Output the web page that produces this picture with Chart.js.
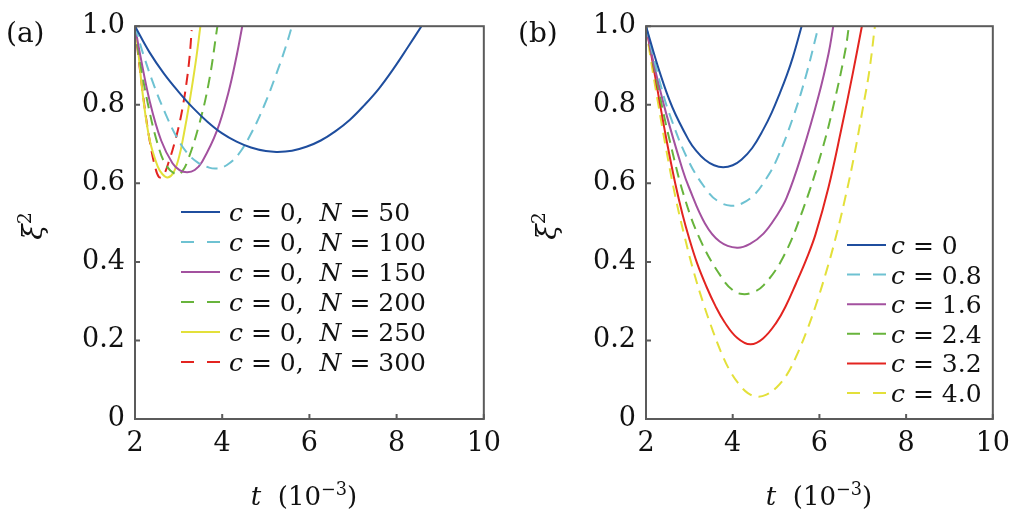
<!DOCTYPE html>
<html>
<head>
<meta charset="utf-8">
<script src="https://cdn.jsdelivr.net/npm/chart.js@4.4.1/dist/chart.umd.min.js"></script>
<style>
  html, body { margin: 0; padding: 0; background: #fff; }
  #wrap { position: relative; width: 1019px; height: 516px; }
  .panel { position: absolute; top: 0; height: 516px; }
</style>
</head>
<body>
<div id="wrap">
  <div class="panel" style="left:0;width:510px"><canvas id="ca" width="510" height="516"></canvas></div>
  <div class="panel" style="left:510px;width:509px"><canvas id="cb" width="509" height="516"></canvas></div>
</div>
<script>
// ---- panel (a): c = 0, varying N ----
const tN50   = [2.0, 2.33, 2.66, 3.0, 3.33, 3.66, 4.0, 4.33, 4.66, 5.0, 5.27, 5.6, 5.93, 6.26, 6.6, 6.93, 7.26, 7.6, 7.93, 8.26, 8.57];
const xiN50  = [1.0, 0.934, 0.880, 0.833, 0.792, 0.757, 0.727, 0.706, 0.691, 0.682, 0.680, 0.683, 0.693, 0.709, 0.733, 0.762, 0.799, 0.842, 0.892, 0.947, 1.0];
const tN100  = [2.0, 2.2, 2.45, 2.7, 2.96, 3.2, 3.45, 3.7, 3.88, 4.1, 4.36, 4.66, 4.97, 5.23, 5.45, 5.6];
const xiN100 = [1.0, 0.925, 0.845, 0.777, 0.717, 0.677, 0.652, 0.640, 0.638, 0.646, 0.672, 0.726, 0.80, 0.875, 0.945, 1.0];
const tN150  = [2.0, 2.11, 2.34, 2.6, 2.86, 3.03, 3.2, 3.37, 3.54, 3.88, 4.14, 4.33, 4.46];
const xiN150 = [1.0, 0.932, 0.808, 0.709, 0.651, 0.633, 0.628, 0.634, 0.655, 0.734, 0.830, 0.924, 1.0];
const tN200  = [2.0, 2.1, 2.3, 2.52, 2.72, 2.96, 3.08, 3.2, 3.46, 3.69, 3.89];
const xiN200 = [1.0, 0.92, 0.80, 0.70, 0.645, 0.622, 0.630, 0.655, 0.745, 0.855, 1.0];
const tN250  = [2.0, 2.07, 2.19, 2.34, 2.52, 2.63, 2.75, 2.88, 3.01, 3.12, 3.24, 3.39, 3.5];
const xiN250 = [1.0, 0.94, 0.815, 0.709, 0.643, 0.623, 0.615, 0.627, 0.667, 0.725, 0.80, 0.907, 1.0];
const tN300  = [2.0, 2.08, 2.16, 2.25, 2.35, 2.45, 2.55, 2.65, 2.79, 2.9, 3.01, 3.1, 3.18, 3.25, 3.3];
const xiN300 = [1.0, 0.92, 0.847, 0.77, 0.70, 0.647, 0.616, 0.62, 0.66, 0.70, 0.748, 0.798, 0.855, 0.92, 0.99];
const nValues = ['50', '100', '150', '200', '250', '300'];

// ---- panel (b): varying c ----
const tC00  = [2.0, 2.31, 2.61, 2.99, 3.15, 3.36, 3.57, 3.78, 4.0, 4.2, 4.45, 4.71, 4.9, 5.09, 5.25, 5.39, 5.59];
const xiC00 = [1.0, 0.885, 0.793, 0.709, 0.684, 0.660, 0.646, 0.641, 0.646, 0.660, 0.690, 0.738, 0.780, 0.830, 0.876, 0.922, 1.0];
const tC08  = [2.0, 2.31, 2.54, 2.99, 3.44, 3.7, 3.96, 4.2, 4.49, 4.75, 5.01, 5.39, 5.69, 5.98];
const xiC08 = [1.0, 0.862, 0.777, 0.655, 0.577, 0.552, 0.543, 0.548, 0.570, 0.608, 0.659, 0.767, 0.874, 1.0];
const tC16  = [2.0, 2.16, 2.46, 2.84, 2.99, 3.36, 3.7, 4.1, 4.4, 4.71, 5.0, 5.24, 5.61, 5.98, 6.21, 6.32];
const xiC16 = [1.0, 0.914, 0.780, 0.636, 0.590, 0.498, 0.452, 0.436, 0.446, 0.472, 0.515, 0.562, 0.680, 0.822, 0.930, 1.0];
const tC24  = [2.0, 2.25, 2.54, 2.91, 3.29, 3.74, 4.0, 4.22, 4.45, 4.71, 5.16, 5.61, 6.06, 6.36, 6.6, 6.68];
const xiC24 = [1.0, 0.86, 0.712, 0.556, 0.447, 0.361, 0.328, 0.318, 0.322, 0.340, 0.411, 0.530, 0.684, 0.815, 0.94, 1.0];
const tC32  = [2.0, 2.15, 2.31, 2.5, 2.68, 2.84, 2.99, 3.18, 3.39, 3.6, 3.81, 4.1, 4.41, 4.7, 5.01, 5.23, 5.46, 5.7, 5.91, 6.21, 6.5, 6.77, 6.98];
const xiC32 = [1.0, 0.91, 0.81, 0.695, 0.597, 0.522, 0.462, 0.396, 0.338, 0.288, 0.247, 0.207, 0.19, 0.205, 0.246, 0.289, 0.345, 0.407, 0.47, 0.59, 0.735, 0.88, 1.0];
const tC40  = [2.0, 2.09, 2.27, 2.46, 2.67, 2.88, 3.1, 3.33, 3.55, 3.74, 3.95, 4.15, 4.35, 4.56, 4.78, 5.01, 5.25, 5.46, 5.7, 5.91, 6.15, 6.36, 6.6, 6.81, 7.0, 7.15, 7.28];
const xiC40 = [1.0, 0.93, 0.81, 0.69, 0.57, 0.469, 0.375, 0.292, 0.222, 0.168, 0.120, 0.088, 0.066, 0.057, 0.062, 0.08, 0.113, 0.158, 0.222, 0.287, 0.372, 0.455, 0.565, 0.675, 0.79, 0.885, 1.0];
const cValues = ['0', '0.8', '1.6', '2.4', '3.2', '4.0'];

// ---- axes ----
const xTicks = [2, 4, 6, 8, 10];
const yTicks = [0, 0.2, 0.4, 0.6, 0.8, 1.0];
const yTickLabels = ['0', '0.2', '0.4', '0.6', '0.8', '1.0'];

const BLUE = '#1f4e9e', CYAN = '#6ec2d2', PURPLE = '#a3519f', GREEN = '#68b43c', YELLOW = '#e3e03a', RED = '#e32420';
const colorsA = [BLUE, CYAN, PURPLE, GREEN, YELLOW, RED];
const colorsB = [BLUE, CYAN, PURPLE, GREEN, RED, YELLOW];
const dashed = [false, true, false, true, false, true];

const SERIF = '"DejaVu Serif", serif';
const pts = (ts, ys) => ts.map((t, i) => ({ x: t, y: ys[i] }));

function makeSets(series, colors) {
  return series.map((s, i) => ({
    data: pts(s[0], s[1]),
    borderColor: colors[i],
    borderWidth: 2,
    borderDash: dashed[i] ? [11, 7] : [],
    pointRadius: 0,
    fill: false,
    tension: 0.4,
  }));
}

// draws a run of text pieces, some italic, some superscript
function richWidth(ctx, segs, size) {
  let w = 0;
  segs.forEach(s => {
    const sz = s.sup ? size * 0.68 : size;
    ctx.font = `${s.it ? 'italic ' : ''}${sz}px ${SERIF}`;
    w += ctx.measureText(s.t).width;
  });
  return w;
}
function rich(ctx, segs, x, y, size) {
  let cx = x;
  segs.forEach(s => {
    const sz = s.sup ? size * 0.68 : size;
    ctx.font = `${s.it ? 'italic ' : ''}${sz}px ${SERIF}`;
    ctx.fillText(s.t, cx, s.sup ? y - size * 0.4 : y);
    cx += ctx.measureText(s.t).width;
  });
}

const framePlugin = {
  id: 'frame',
  afterDatasetsDraw(chart) {
    const { ctx, chartArea: a, scales: { x, y } } = chart;
    ctx.save();
    ctx.strokeStyle = '#5b5b5b';
    ctx.lineWidth = 2;
    ctx.setLineDash([]);
    ctx.strokeRect(a.left, a.top, a.right - a.left, a.bottom - a.top);
    ctx.beginPath();
    xTicks.forEach(v => {
      const px = x.getPixelForValue(v);
      ctx.moveTo(px, a.bottom); ctx.lineTo(px, a.bottom - 5);
    });
    yTicks.forEach(v => {
      const py = y.getPixelForValue(v);
      ctx.moveTo(a.left, py); ctx.lineTo(a.left + 5, py);
    });
    ctx.stroke();
    ctx.restore();
  }
};

const textPlugin = {
  id: 'texts',
  afterDraw(chart, args, o) {
    const ctx = chart.ctx;
    ctx.save();
    ctx.fillStyle = '#111';
    ctx.textBaseline = 'alphabetic';
    ctx.textAlign = 'left';

    // panel tag
    ctx.font = `28px ${SERIF}`;
    ctx.fillText(o.tag, o.tagX, 42);

    // x title: t (10^-3)
    const xt = [{ t: 't', it: true }, { t: '  (10' }, { t: '−3', sup: true }, { t: ')' }];
    const w = richWidth(ctx, xt, 26);
    rich(ctx, xt, o.xTitleX - w / 2, 505, 26);

    // y title: xi^2, rotated
    ctx.save();
    ctx.translate(o.yTitleX, 226);
    ctx.rotate(-Math.PI / 2);
    const yt = [{ t: 'ξ', it: true }, { t: '2', sup: true }];
    const wy = richWidth(ctx, yt, 28);
    rich(ctx, yt, -wy / 2, 9, 28);
    ctx.restore();

    // legend
    chart.data.datasets.forEach((ds, i) => {
      const ly = o.legY + o.legDy * i;
      ctx.save();
      ctx.strokeStyle = ds.borderColor;
      ctx.lineWidth = 2;
      ctx.setLineDash(dashed[i] ? [13, 13] : []);
      ctx.beginPath();
      ctx.moveTo(o.legX, ly); ctx.lineTo(o.legX + 39, ly);
      ctx.stroke();
      ctx.restore();
      rich(ctx, o.legText(i), o.legTextX, ly + 9, 25);
    });
    ctx.restore();
  }
};

function scalesCfg(yWidth) {
  const tickFont = { family: SERIF, size: 27 };
  return {
    x: {
      type: 'linear', min: 2, max: 10,
      afterBuildTicks: s => { s.ticks = xTicks.map(v => ({ value: v })); },
      ticks: { font: tickFont, color: '#111', padding: 9, maxRotation: 0, autoSkip: false,
               callback: v => String(v) },
      grid: { display: false, drawTicks: false },
      border: { display: false },
      afterFit: s => { s.height = 97; },
    },
    y: {
      type: 'linear', min: 0, max: 1,
      afterBuildTicks: s => { s.ticks = yTicks.map(v => ({ value: v })); },
      ticks: { font: tickFont, color: '#111', padding: 10, autoSkip: false,
               callback: (v, i) => yTickLabels[i] },
      grid: { display: false, drawTicks: false },
      border: { display: false },
      afterFit: s => { s.width = yWidth; },
    },
  };
}

function makeChart(id, sets, padRight, yWidth, texts) {
  return new Chart(document.getElementById(id), {
    type: 'line',
    data: { datasets: sets },
    options: {
      responsive: false,
      animation: false,
      devicePixelRatio: 1,
      layout: { padding: { top: 16, right: padRight, left: 0, bottom: 0 } },
      plugins: { legend: { display: false }, tooltip: { enabled: false }, texts },
      scales: scalesCfg(yWidth),
    },
    plugins: [framePlugin, textPlugin],
  });
}

makeChart('ca', makeSets([[tN50, xiN50], [tN100, xiN100], [tN150, xiN150],
                          [tN200, xiN200], [tN250, xiN250], [tN300, xiN300]], colorsA), 20, 135, {
  tag: '(a)', tagX: 6, xTitleX: 304, yTitleX: 33,
  legX: 181, legTextX: 229, legY: 212, legDy: 30,
  legText: i => [{ t: 'c', it: true }, { t: ' = 0,  ' }, { t: 'N', it: true }, { t: ' = ' + nValues[i] }],
});

makeChart('cb', makeSets([[tC00, xiC00], [tC08, xiC08], [tC16, xiC16],
                          [tC24, xiC24], [tC32, xiC32], [tC40, xiC40]], colorsB), 17, 136, {
  tag: '(b)', tagX: 8, xTitleX: 309, yTitleX: 37,
  legX: 337, legTextX: 381, legY: 245, legDy: 29.6,
  legText: i => [{ t: 'c', it: true }, { t: ' = ' + cValues[i] }],
});
</script>
</body>
</html>
